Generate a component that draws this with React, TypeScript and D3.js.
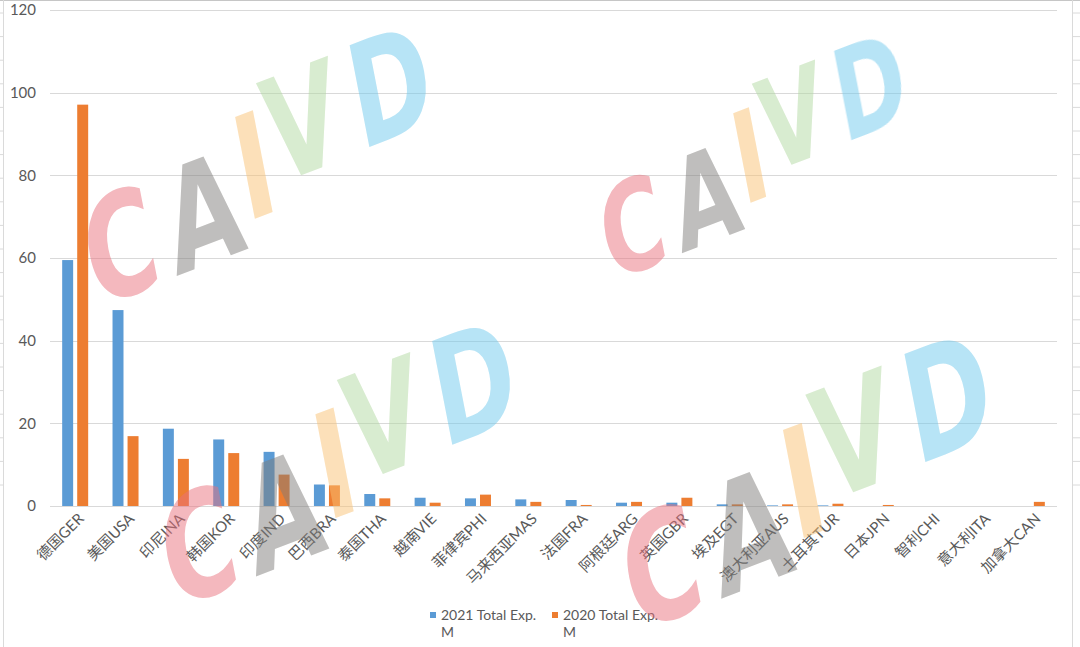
import * as d3 from 'd3'

const categories = ['德国GER', '美国USA', '印尼INA', '韩国KOR', '印度IND', '巴西BRA', '泰国THA', '越南VIE', '菲律宾PHI', '马来西亚MAS',
  '法国FRA', '阿根廷ARG', '英国GBR', '埃及EGT', '澳大利亚AUS', '土耳其TUR', '日本JPN', '智利CHI', '意大利ITA', '加拿大CAN']
const exp2021 = [59.5, 47.4, 18.7, 16.1, 13.1, 5.2, 2.9, 2.0, 1.85, 1.6, 1.45, 0.8, 0.8, 0.4, 0.15, 0.15, 0, 0, 0, 0]
const exp2020 = [97.1, 16.9, 11.4, 12.8, 7.6, 5.0, 1.85, 0.8, 2.75, 1.0, 0.25, 1.0, 2.0, 0.4, 0.4, 0.55, 0.25, 0, 0, 1.0]
const seriesNames = ['2021 Total Exp.', '2020 Total Exp.']
const yTicks = [0, 20, 40, 60, 80, 100, 120]

const W = 1080
const H = 647
const colors = ['#5b9bd5', '#ed7d31']
const textColor = '#595959'
const font = 'Lato, "Noto Sans CJK SC", sans-serif'

// watermark letters: offset from the C, fill
const wmLetters = [
  {ch: 'C', dx: 0, dy: 0, fill: '#e8707c'},
  {ch: 'A', dx: 83, dy: -33, fill: '#7f7d7a'},
  {ch: 'I', dx: 134, dy: -80, fill: '#f9c172'},
  {ch: 'V', dx: 182, dy: -124, fill: '#b1d8a0'},
  {ch: 'D', dx: 270, dy: -160, fill: '#6ec8ec'},
]
const wmPlaces = [
  {x: 120, y: 245, s: 1},
  {x: 632, y: 226, s: 0.88},
  {x: 198, y: 545, s: 1.02},
  {x: 661, y: 566, s: 1.06},
]

const App = () => {
  const left = 50
  const right = 1057
  const x0 = d3.scaleBand().domain(categories).range([left, right])
  const bw = x0.bandwidth()
  const x1 = d3.scaleBand().domain(seriesNames).range([bw / 2 - 13, bw / 2 + 13]).paddingInner(0.27)
  const y = d3.scaleLinear().domain([0, 120]).range([506, 10])

  const rows = d3.range(13, 500, 23.6)

  return (
    <svg width={W} height={H} style={{position: 'absolute', left: 0, top: 0, background: '#fff'}}>
      {/* spreadsheet frame */}
      <line x1={0} x2={W} y1={0.5} y2={0.5} stroke="#c6c6c6"/>
      <line x1={3.5} x2={3.5} y1={0} y2={H} stroke="#dadada"/>
      <line x1={1072.5} x2={1072.5} y1={0} y2={H} stroke="#dadada"/>
      {rows.map((r, i) => (
        <g key={i}>
          <line x1={0} x2={3} y1={r} y2={r} stroke="#dadada"/>
          <line x1={1073} x2={W} y1={r} y2={r} stroke="#dadada"/>
        </g>
      ))}

      {/* grid */}
      {yTicks.map((t) => (
        <g key={t}>
          <line x1={left} x2={right} y1={Math.round(y(t)) + 0.5} y2={Math.round(y(t)) + 0.5} stroke="#d9d9d9" strokeWidth={1}/>
          <text x={36} y={y(t)} dy="0.35em" textAnchor="end" fontSize={15} fill={textColor} fontFamily={font}>{t}</text>
        </g>
      ))}

      {/* bars */}
      {categories.map((c, i) => (
        <g key={c} transform={`translate(${x0(c)},0)`}>
          {[exp2021[i], exp2020[i]].map((v, j) => (
            v > 0 ? <rect key={j} x={x1(seriesNames[j])} y={y(v)} width={x1.bandwidth()} height={y(0) - y(v)} fill={colors[j]}/> : null
          ))}
        </g>
      ))}

      {/* category labels */}
      {categories.map((c) => (
        <text key={c} transform={`translate(${(x0(c) as number) + bw / 2 + 6},${516}) rotate(-45)`}
              textAnchor="end" dy="0.35em" fontSize={15} fill={textColor} fontFamily={font}>{c}</text>
      ))}

      {/* legend */}
      {seriesNames.map((s, j) => {
        const lx = j === 0 ? 430 : 552
        return (
          <g key={s}>
            <rect x={lx} y={612} width={6} height={6} fill={colors[j]}/>
            <text x={lx + 11} y={620} fontSize={14} fill={textColor} fontFamily={font}>{s}</text>
            <text x={lx + 11} y={637} fontSize={14} fill={textColor} fontFamily={font}>M</text>
          </g>
        )
      })}

      {/* watermark */}
      {wmPlaces.map((p, k) => (
        <g key={k} opacity={0.5}>
          {wmLetters.map((l) => (
            <text key={l.ch}
                  transform={`translate(${p.x + l.dx * p.s},${p.y + l.dy * p.s}) rotate(-21) skewX(-10) scale(${0.72 * p.s},${p.s})`}
                  textAnchor="middle" dy="0.36em" fontSize={140} fontWeight="bold"
                  fontFamily='"DejaVu Sans", sans-serif' fill={l.fill}>{l.ch}</text>
          ))}
        </g>
      ))}
    </svg>
  )
}

export default App
